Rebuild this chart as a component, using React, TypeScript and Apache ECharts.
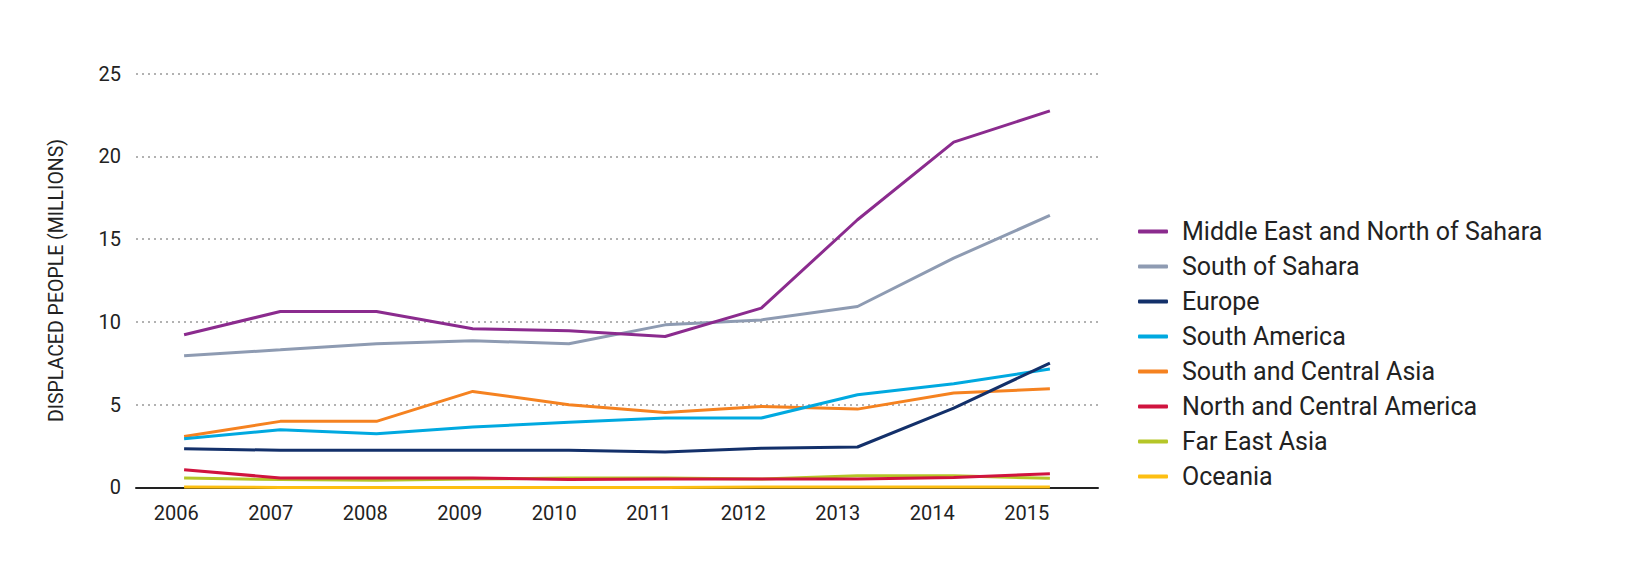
import React, { useEffect, useRef } from "react";
import * as echarts from "echarts";

const years = ["2006", "2007", "2008", "2009", "2010", "2011", "2012", "2013", "2014", "2015"];

const middleEast = [9.22, 10.63, 10.63, 9.58, 9.46, 9.12, 10.83, 16.17, 20.86, 22.75];
const southOfSahara = [7.95, 8.31, 8.68, 8.86, 8.68, 9.82, 10.12, 10.93, 13.85, 16.43];
const europe = [2.34, 2.24, 2.24, 2.24, 2.24, 2.14, 2.36, 2.44, 4.79, 7.51];
const southAmerica = [2.94, 3.48, 3.24, 3.65, 3.93, 4.19, 4.19, 5.6, 6.26, 7.15];
const southCentralAsia = [3.08, 3.99, 3.99, 5.8, 4.99, 4.53, 4.89, 4.73, 5.7, 5.96];
const northCentralAmerica = [1.07, 0.57, 0.57, 0.57, 0.47, 0.5, 0.5, 0.5, 0.6, 0.83];
const farEastAsia = [0.57, 0.47, 0.43, 0.5, 0.57, 0.57, 0.5, 0.7, 0.7, 0.55];
const oceania = [0.03, 0.0, 0.0, 0.0, 0.0, 0.0, 0.03, 0.03, 0.03, 0.03];

const regions = [
  { name: "Middle East and North of Sahara", data: middleEast, color: "#8B2B8E" },
  { name: "South of Sahara", data: southOfSahara, color: "#8E9BB2" },
  { name: "Europe", data: europe, color: "#13306A" },
  { name: "South America", data: southAmerica, color: "#00A9E0" },
  { name: "South and Central Asia", data: southCentralAsia, color: "#F58220" },
  { name: "North and Central America", data: northCentralAmerica, color: "#D0143F" },
  { name: "Far East Asia", data: farEastAsia, color: "#B5C628" },
  { name: "Oceania", data: oceania, color: "#FDBF12" },
];

const FONT = "'Roboto', 'Open Sans', sans-serif";
const TEXT = "#222222";

export default function App() {
  const ref = useRef<HTMLDivElement>(null);

  useEffect(() => {
    if (!ref.current) return;
    const chart = echarts.init(ref.current, undefined, { renderer: "svg" });
    chart.setOption({
      animation: false,
      backgroundColor: "#ffffff",
      textStyle: { fontFamily: FONT, color: TEXT },
      grid: [
        // plotting area
        { left: 136, right: 528, top: 73.6, bottom: 85.6 },
        // year labels row
        { left: 129, right: 552, top: 73.6, bottom: 85.6 },
      ],
      legend: {
        orient: "vertical",
        left: 1133,
        top: 214,
        itemWidth: 30,
        itemHeight: 4,
        itemGap: 10,
        icon: "roundRect",
        textStyle: {
          fontFamily: FONT,
          fontSize: 25,
          color: TEXT,
          lineHeight: 25,
          padding: [0, 0, 0, 9],
        },
        data: regions.map((r) => r.name),
      },
      xAxis: [
        {
          type: "category",
          gridIndex: 0,
          data: years,
          boundaryGap: true,
          axisLine: { show: true, lineStyle: { color: "#222", width: 2 } },
          axisTick: { show: false },
          axisLabel: { show: false },
          splitLine: { show: false },
        },
        {
          type: "category",
          gridIndex: 1,
          data: years,
          boundaryGap: true,
          axisLine: { show: false },
          axisTick: { show: false },
          axisLabel: {
            show: true,
            margin: 16,
            fontFamily: FONT,
            fontSize: 20,
            color: TEXT,
          },
          splitLine: { show: false },
        },
      ],
      yAxis: [
        {
          type: "value",
          gridIndex: 0,
          min: 0,
          max: 25,
          interval: 5,
          name: "DISPLACED PEOPLE (MILLIONS)",
          nameLocation: "middle",
          nameGap: 70,
          nameRotate: 90,
          nameTextStyle: { fontFamily: FONT, fontSize: 19.5, color: TEXT },
          axisLine: { show: false },
          axisTick: { show: false },
          axisLabel: { margin: 15, fontFamily: FONT, fontSize: 20, color: TEXT },
          splitLine: {
            show: true,
            lineStyle: { color: "#999999", width: 1.5, type: [2, 4] },
          },
        },
        {
          type: "value",
          gridIndex: 1,
          min: 0,
          max: 25,
          show: false,
        },
      ],
      series: regions.map((r, i) => ({
        name: r.name,
        type: "line",
        xAxisIndex: 0,
        yAxisIndex: 0,
        data: r.data,
        showSymbol: false,
        symbol: "none",
        color: r.color,
        lineStyle: { color: r.color, width: 3 },
        z: 10 - i,
      })),
    });
    return () => chart.dispose();
  }, []);

  return (
    <div
      ref={ref}
      style={{ position: "fixed", left: 0, top: 0, width: 1626, height: 573 }}
    />
  );
}
